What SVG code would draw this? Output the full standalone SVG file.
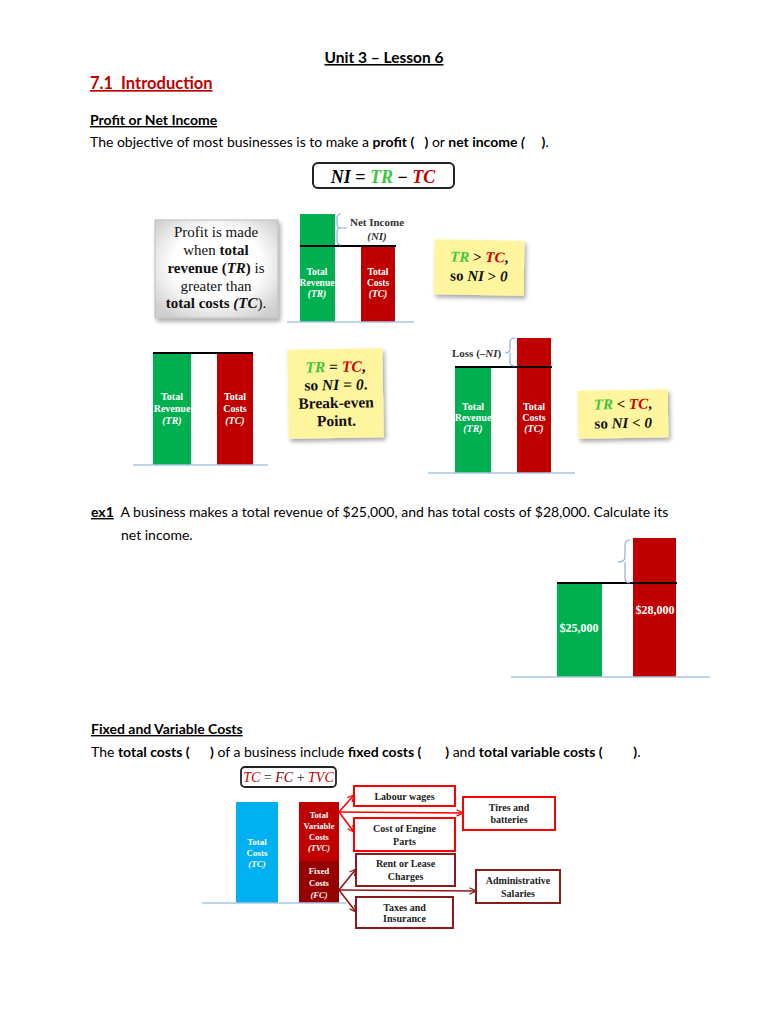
<svg xmlns="http://www.w3.org/2000/svg" width="768" height="1024" viewBox="0 0 768 1024">
<defs>
<style>
.b{font-family:Lato,"Liberation Sans",sans-serif;font-size:14px;fill:#000}
.bb{font-weight:bold}
.ser{font-family:"Liberation Serif",serif}
.lbl{font-family:"Liberation Serif",serif;font-weight:bold;font-size:9px;fill:#fff;text-anchor:middle}
.it{font-style:italic}
.stk{font-family:"Liberation Serif",serif;font-weight:bold;font-size:15px;fill:#111;text-anchor:middle}
.box{font-family:"Liberation Serif",serif;font-weight:bold;font-size:10px;fill:#222;text-anchor:middle}
.base{stroke:#A9C4E6;stroke-width:1.3}
.top{stroke:#000;stroke-width:2}
.brace{fill:none;stroke:#8FAADC;stroke-width:1.2}
.g{fill:#00B050}
.r{fill:#C00000}
.note{fill:#FFF59F}
.ar{fill:none;stroke:#FF0000;stroke-width:1.6}
.ad{fill:none;stroke:#8B1A1A;stroke-width:1.6}
</style>
<filter id="sh" x="-20%" y="-20%" width="150%" height="150%">
<feDropShadow dx="2" dy="3" stdDeviation="2" flood-color="#000" flood-opacity="0.35"/>
</filter>
<radialGradient id="pg" cx="50%" cy="45%" r="65%">
<stop offset="0.55" stop-color="#ffffff"/>
<stop offset="1" stop-color="#cfcfcf"/>
</radialGradient>
<marker id="mr" viewBox="0 0 10 10" refX="9" refY="5" markerWidth="8" markerHeight="8" markerUnits="userSpaceOnUse" orient="auto">
<path d="M1,1 L9,5 L1,9" fill="none" stroke="#FF0000" stroke-width="1.6"/>
</marker>
<marker id="md" viewBox="0 0 10 10" refX="9" refY="5" markerWidth="8" markerHeight="8" markerUnits="userSpaceOnUse" orient="auto">
<path d="M1,1 L9,5 L1,9" fill="none" stroke="#8B1A1A" stroke-width="1.6"/>
</marker>
</defs>
<rect width="768" height="1024" fill="#fff"/>

<g id="header">
<text class="b bb" x="384" y="63" text-anchor="middle" text-decoration="underline" style="font-size:15.5px">Unit 3 – Lesson 6</text>
<text class="b bb" x="90" y="89" xml:space="preserve" style="fill:#C00000;font-size:16.5px" text-decoration="underline">7.1  Introduction</text>
<text class="b bb" x="90" y="125" text-decoration="underline">Profit or Net Income</text>
<text class="b" x="90" y="147" xml:space="preserve">The objective of most businesses is to make a <tspan class="bb">profit (   )</tspan> or <tspan class="bb">net income <tspan class="it">(</tspan>     )</tspan>.</text>
</g>

<g id="formula-ni">
<rect x="313" y="163" width="141" height="25" rx="5" fill="#fff" stroke="#222" stroke-width="2"/>
<text class="ser" x="383" y="183" text-anchor="middle" font-weight="bold" font-style="italic" style="font-size:18px">NI <tspan font-style="normal">=</tspan> <tspan fill="#3CC83C">TR</tspan> <tspan font-style="normal">−</tspan> <tspan fill="#C00000">TC</tspan></text>
</g>

<g id="profit-box">
<rect x="155" y="220" width="123" height="98" fill="url(#pg)" stroke="#bdbdbd" stroke-width="1" filter="url(#sh)"/>
<g class="ser" text-anchor="middle" style="font-size:15px" fill="#111">
<text x="216" y="237">Profit is made</text>
<text x="216" y="255">when <tspan font-weight="bold">total</tspan></text>
<text x="216" y="273"><tspan font-weight="bold">revenue (<tspan font-style="italic">TR</tspan>)</tspan> is</text>
<text x="216" y="291">greater than</text>
<text x="216" y="308"><tspan font-weight="bold">total costs <tspan font-style="italic">(TC</tspan></tspan>).</text>
</g>
</g>

<g id="chart-profit">
<rect class="g" x="300" y="214" width="35" height="108"/>
<rect class="r" x="361" y="246" width="34" height="76"/>
<line class="top" x1="300" y1="246" x2="396" y2="246"/>
<line class="base" x1="287" y1="322" x2="414" y2="322"/>
<path class="brace" d="M341,214 Q337,214 337,218 V224 Q337,228 341,228 H347 M341,228 Q337,228 337,232 V240 Q337,245 341,245"/>
<text class="ser" x="377" y="226" text-anchor="middle" font-weight="bold" fill="#333" style="font-size:11px">Net Income</text>
<text class="ser" x="377" y="240" text-anchor="middle" font-weight="bold" font-style="italic" fill="#333" style="font-size:11px">(NI)</text>
<text class="lbl" x="317" y="275" style="font-size:9.5px">Total</text>
<text class="lbl" x="317" y="286" style="font-size:9.5px">Revenue</text>
<text class="lbl it" x="317" y="297" style="font-size:9.5px">(TR)</text>
<text class="lbl" x="378" y="275" style="font-size:9.5px">Total</text>
<text class="lbl" x="378" y="286" style="font-size:9.5px">Costs</text>
<text class="lbl it" x="378" y="297" style="font-size:9.5px">(TC)</text>
</g>

<g id="note-profit" transform="rotate(1 479 268)">
<rect class="note" x="434" y="240" width="90" height="55" filter="url(#sh)"/>
<text class="stk" x="479" y="262"><tspan class="it" fill="#3CC83C">TR</tspan> &gt; <tspan class="it" fill="#D00000">TC</tspan>,</text>
<text class="stk" x="479" y="281">so <tspan class="it">NI</tspan> &gt; <tspan class="it">0</tspan></text>
</g>

<g id="chart-breakeven">
<rect class="g" x="153" y="353" width="38" height="112"/>
<rect class="r" x="217" y="353" width="36" height="112"/>
<line class="top" x1="153" y1="353" x2="253" y2="353"/>
<line class="base" x1="133" y1="465" x2="268" y2="465"/>
<text class="lbl" x="172" y="400" style="font-size:10px">Total</text>
<text class="lbl" x="172" y="412" style="font-size:10px">Revenue</text>
<text class="lbl it" x="172" y="424" style="font-size:10px">(TR)</text>
<text class="lbl" x="235" y="400" style="font-size:10px">Total</text>
<text class="lbl" x="235" y="412" style="font-size:10px">Costs</text>
<text class="lbl it" x="235" y="424" style="font-size:10px">(TC)</text>
</g>

<g id="note-breakeven" transform="rotate(-1 335 393)">
<rect class="note" x="288" y="349" width="95" height="89" filter="url(#sh)"/>
<text class="stk" x="336" y="372" style="font-size:15.5px"><tspan class="it" fill="#3CC83C">TR</tspan> = <tspan class="it" fill="#D00000">TC</tspan>,</text>
<text class="stk" x="336" y="390" style="font-size:15.5px">so <tspan class="it">NI</tspan> = <tspan class="it">0</tspan>.</text>
<text class="stk" x="336" y="408" style="font-size:15.5px">Break-even</text>
<text class="stk" x="336" y="426" style="font-size:15.5px">Point.</text>
</g>

<g id="chart-loss">
<rect class="g" x="455" y="367" width="36" height="106"/>
<rect class="r" x="517" y="338" width="34" height="135"/>
<line class="top" x1="455" y1="367" x2="552" y2="367"/>
<line class="base" x1="428" y1="473" x2="575" y2="473"/>
<path class="brace" d="M515,338 Q510,338 510,342 V349 Q510,353 505,353 M510,353 Q510,357 510,360 V362 Q510,366 515,366"/>
<text class="ser" x="452" y="357" font-weight="bold" fill="#333" style="font-size:11px">Loss (–<tspan font-style="italic">NI</tspan>)</text>
<text class="lbl" x="473" y="410" style="font-size:10px">Total</text>
<text class="lbl" x="473" y="421" style="font-size:10px">Revenue</text>
<text class="lbl it" x="473" y="432" style="font-size:10px">(TR)</text>
<text class="lbl" x="534" y="410" style="font-size:10px">Total</text>
<text class="lbl" x="534" y="421" style="font-size:10px">Costs</text>
<text class="lbl it" x="534" y="432" style="font-size:10px">(TC)</text>
</g>

<g id="note-loss" transform="rotate(-1 623 414)">
<rect class="note" x="578" y="390" width="90" height="48" filter="url(#sh)"/>
<text class="stk" x="623" y="409"><tspan class="it" fill="#3CC83C">TR</tspan> &lt; <tspan class="it" fill="#D00000">TC</tspan>,</text>
<text class="stk" x="623" y="428">so <tspan class="it">NI</tspan> &lt; <tspan class="it">0</tspan></text>
</g>

<g id="ex1-text">
<text class="b" x="91" y="517" xml:space="preserve"><tspan class="bb" text-decoration="underline">ex1</tspan>  A business makes a total revenue of $25,000, and has total costs of $28,000. Calculate its</text>
<text class="b" x="121" y="540">net income.</text>
</g>

<g id="chart-ex1">
<rect class="g" x="557" y="583" width="45" height="94"/>
<rect class="r" x="633" y="538" width="43" height="139"/>
<line class="top" x1="557" y1="583" x2="677" y2="583"/>
<line class="base" x1="511" y1="677" x2="710" y2="677"/>
<path class="brace" d="M630,540 Q625,540 625,545 V557 Q625,562 618,562 M625,562 Q625,567 625,572 V578 Q625,583 630,583"/>
<text class="lbl" x="579" y="632" style="font-size:12px">$25,000</text>
<text class="lbl" x="655" y="614" style="font-size:12px">$28,000</text>
</g>

<g id="costs-text">
<text class="b bb" x="91" y="734" text-decoration="underline">Fixed and Variable Costs</text>
<text class="b" x="91" y="757" xml:space="preserve">The <tspan class="bb">total costs (      )</tspan> of a business include <tspan class="bb">fixed costs (       )</tspan> and <tspan class="bb">total variable costs (         )</tspan>.</text>
</g>

<g id="formula-tc">
<rect x="241" y="767" width="95" height="20" rx="4" fill="#fff" stroke="#222" stroke-width="1.8"/>
<text class="ser" x="288.5" y="782" text-anchor="middle" font-style="italic" style="font-size:14px"><tspan fill="#C00000">TC</tspan><tspan fill="#333" font-style="normal"> = </tspan><tspan fill="#8B0000">FC</tspan><tspan fill="#333" font-style="normal"> + </tspan><tspan fill="#C00000">TVC</tspan></text>
</g>

<g id="bar-tc">
<rect x="236" y="802" width="42" height="101" fill="#00B0F0"/>
<text class="lbl" x="257" y="845">Total</text>
<text class="lbl" x="257" y="856">Costs</text>
<text class="lbl it" x="257" y="867">(TC)</text>
</g>

<g id="bar-tvc">
<rect x="299" y="802" width="40" height="59" fill="#C00000"/>
<text class="lbl" x="319" y="818" style="font-size:8.5px">Total</text>
<text class="lbl" x="319" y="829" style="font-size:8.5px">Variable</text>
<text class="lbl" x="319" y="840" style="font-size:8.5px">Costs</text>
<text class="lbl it" x="319" y="851" style="font-size:8.5px">(TVC)</text>
</g>

<g id="bar-fc">
<rect x="299" y="861" width="40" height="42" fill="#960000"/>
<text class="lbl" x="319" y="874" style="font-size:8.5px">Fixed</text>
<text class="lbl" x="319" y="886" style="font-size:8.5px">Costs</text>
<text class="lbl it" x="319" y="898" style="font-size:8.5px">(FC)</text>
</g>
<line class="base" x1="202" y1="903" x2="346" y2="903"/>

<g id="box-labour">
<rect x="354" y="786" width="101" height="20" fill="#fff" stroke="#FF0000" stroke-width="2"/>
<text class="box" x="404.5" y="800">Labour wages</text>
</g>
<g id="box-engine">
<rect x="354" y="818" width="101" height="33" fill="#fff" stroke="#FF0000" stroke-width="2"/>
<text class="box" x="404.5" y="832">Cost of Engine</text>
<text class="box" x="404.5" y="845">Parts</text>
</g>
<g id="box-tires">
<rect x="463" y="797" width="92" height="33" fill="#fff" stroke="#FF0000" stroke-width="2"/>
<text class="box" x="509" y="811">Tires and</text>
<text class="box" x="509" y="823">batteries</text>
</g>
<g id="box-rent">
<rect x="356" y="854" width="99" height="32" fill="#fff" stroke="#8B1A1A" stroke-width="2"/>
<text class="box" x="405.5" y="867">Rent or Lease</text>
<text class="box" x="405.5" y="880">Charges</text>
</g>
<g id="box-admin">
<rect x="476" y="870" width="84" height="33" fill="#fff" stroke="#8B1A1A" stroke-width="2"/>
<text class="box" x="518" y="884">Administrative</text>
<text class="box" x="518" y="897">Salaries</text>
</g>
<g id="box-taxes">
<rect x="356" y="897" width="97" height="31" fill="#fff" stroke="#8B1A1A" stroke-width="2"/>
<text class="box" x="404.5" y="911">Taxes and</text>
<text class="box" x="404.5" y="922">Insurance</text>
</g>

<g id="connectors">
<line class="ar" x1="339" y1="812" x2="354" y2="795" marker-end="url(#mr)"/>
<line class="ar" x1="339" y1="812" x2="354" y2="832" marker-end="url(#mr)"/>
<line class="ar" x1="339" y1="812" x2="463" y2="813" marker-end="url(#mr)"/>
<line class="ad" x1="339" y1="890" x2="356" y2="869" marker-end="url(#md)"/>
<line class="ad" x1="339" y1="890" x2="476" y2="891" marker-end="url(#md)"/>
<line class="ad" x1="339" y1="890" x2="356" y2="912" marker-end="url(#md)"/>
</g>
</svg>
